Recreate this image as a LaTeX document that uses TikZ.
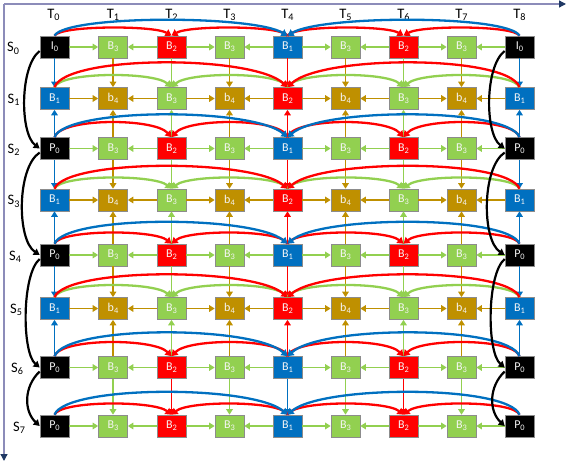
\documentclass[tikz,border=0pt]{standalone}
\usepackage{fontspec}
\setmainfont{Carlito}
\usepackage{graphicx}
\usetikzlibrary{arrows.meta}
\definecolor{cU}{HTML}{0070C0}
\definecolor{cR}{HTML}{FF0000}
\definecolor{cG}{HTML}{92D050}
\definecolor{cY}{HTML}{BF9000}
\definecolor{cA}{HTML}{000000}
\definecolor{axline}{RGB}{140,140,185}
\definecolor{axhead}{HTML}{1F3864}
\newcommand\mysub[1]{\raisebox{-0.35ex}{\scalebox{0.7}{#1}}}
\newcommand\labA{\ifnum\r=0 I\else P\fi\mysub{0}}
\newcommand\labU{B\mysub{1}}
\newcommand\labR{B\mysub{2}}
\newcommand\labG{B\mysub{3}}
\newcommand\labY{b\mysub{4}}
\newcommand\myarc[5]{%
  \pgfmathsetmacro\ca{0.05*(#4)}%
  \pgfmathsetmacro\cb{-0.15*(#4)}%
  \pgfmathsetmacro\ch{1.3*(#5)}%
  \draw[arcline,#1] (#2.north) .. controls +(\ca,\ch) and +(\cb,\ch) .. (#3.north);}
\tikzset{
  box/.style={rectangle, draw=black!45, line width=0.6pt, minimum width=29pt,
    minimum height=22pt, inner sep=0pt, text=white!92!gray, font=\fontsize{12}{13}\selectfont},
  bA/.style={box, fill=cA},
  bU/.style={box, fill=cU},
  bR/.style={box, fill=cR},
  bG/.style={box, fill=cG},
  bY/.style={box, fill=cY},
  lab/.style={font=\fontsize{14.5}{15}\selectfont, anchor=base, inner sep=0pt},
  strline/.style={line width=1.9pt, -{Triangle[length=5.5pt,width=6.5pt]}},
  arcline/.style={line width=2.3pt, -{Triangle[length=6pt,width=7.5pt]}},
  blkline/.style={line width=2.2pt, black, -{Triangle[length=6pt,width=7pt]}},
  axisline/.style={line width=1.3pt, axline, -{Triangle[length=7pt,width=7pt,color=axhead]}}
}
\begin{document}
\begin{tikzpicture}[x=1pt,y=1pt]
\useasboundingbox (0,0) rectangle (567,-462);
% axes
\coordinate (o) at (4,-4);
\coordinate (xe) at (566,-4);
\coordinate (ye) at (4,-461);
\draw[axisline] (o) -- (xe);
\draw[axisline] (o) -- (ye);
% column labels
\foreach \c/\x in {0/53.5,1/113,2/171.5,3/229.5,4/287.5,5/345.5,6/403.5,7/461.5,8/519.5}
  \node[lab] (t\c) at (\x,-18.5) {T\mysub{\c}};
% row labels
\foreach \r/\x/\y in {0/13/47,1/13.5/98.5,2/13.5/148.5,3/13.5/200,4/15/255,5/16/308.5,6/17/367.5,7/19/426}
  \node[lab] (s\r) at (\x,-\y-5) {S\mysub{\r}};
% nodes
\foreach \r/\y in {0/47,2/148.5,4/255,6/367.5,7/426}
  \foreach \c/\x/\t in {0/54.5/A,1/113/G,2/171.5/R,3/229.5/G,4/287.5/U,5/345.5/G,6/403.5/R,7/461.5/G,8/519.5/A}
    \node[b\t] (n\r\c) at (\x,-\y) {\csname lab\t\endcsname};
\foreach \r/\y in {1/98.5,3/200,5/308.5}
  \foreach \c/\x/\t in {0/54.5/U,1/113/Y,2/171.5/G,3/229.5/Y,4/287.5/R,5/345.5/Y,6/403.5/G,7/461.5/Y,8/519.5/U}
    \node[b\t] (n\r\c) at (\x,-\y) {\csname lab\t\endcsname};
% horizontal arrows
\foreach \r/\col in {0/cG,2/cG,4/cG,6/cG,7/cG,1/cY,3/cY,5/cY}
  \foreach \s/\t in {0/1,2/1,2/3,4/3,4/5,6/5,6/7,8/7}
    \draw[strline,\col] (n\r\s) -- (n\r\t);
% vertical arrows
\foreach \r/\a/\b in {1/0/2,3/2/4,5/4/6}
  \foreach \c/\col in {0/cU,1/cY,2/cG,3/cY,4/cR,5/cY,6/cG,7/cY,8/cU} {
    \draw[strline,\col] (n\a\c) -- (n\r\c);
    \draw[strline,\col] (n\b\c) -- (n\r\c);
  }
\foreach \c/\col in {1/cG,2/cR,3/cG,4/cU,5/cG,6/cR,7/cG}
  \draw[strline,\col] (n6\c) -- (n7\c);
% arcs, even rows
\foreach \r/\hl/\hs in {0/16/8,2/23/15,4/22/11,6/24/14,7/23/11} {
  \myarc{cR}{n\r0}{n\r2}{117}{\hs}
  \myarc{cR}{n\r4}{n\r2}{-116}{\hs}
  \myarc{cR}{n\r4}{n\r6}{116}{\hs}
  \myarc{cR}{n\r8}{n\r6}{-116}{\hs}
  \myarc{cU}{n\r0}{n\r4}{233}{\hl}
  \myarc{cU}{n\r8}{n\r4}{-232}{\hl}
}
% arcs, odd rows
\foreach \r/\hl/\hs in {1/25/12,3/23/11,5/23/12} {
  \myarc{cG}{n\r0}{n\r2}{117}{\hs}
  \myarc{cG}{n\r4}{n\r2}{-116}{\hs}
  \myarc{cG}{n\r4}{n\r6}{116}{\hs}
  \myarc{cG}{n\r8}{n\r6}{-116}{\hs}
  \myarc{cR}{n\r0}{n\r4}{233}{\hl}
  \myarc{cR}{n\r8}{n\r4}{-232}{\hl}
}
% black inter-view curves
\foreach \a/\b/\d in {0/2/20,2/4/23,4/6/18,6/7/16}
  \foreach \c in {0,8}
    \draw[blkline] ([yshift=-4pt]n\a\c.west) .. controls +(-\d,-15) and +(-\d,15) .. (n\b\c.west);
\end{tikzpicture}
\end{document}
